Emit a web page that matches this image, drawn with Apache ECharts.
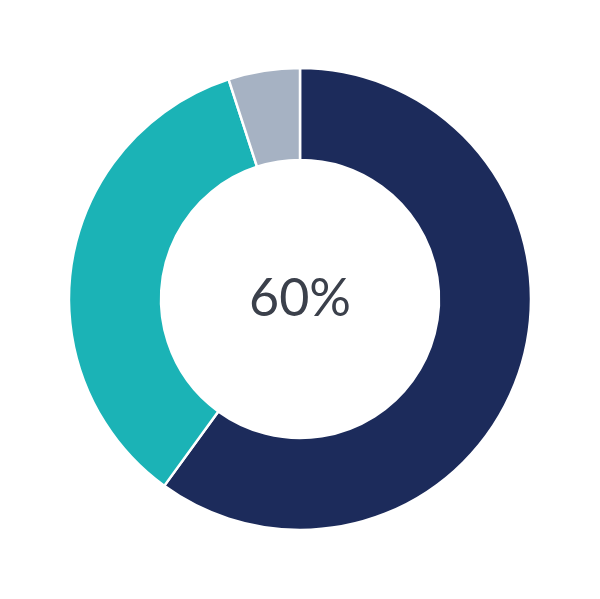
<!DOCTYPE html>
<html><head><meta charset="utf-8">
<script src="https://cdn.jsdelivr.net/npm/echarts@6/dist/echarts.min.js"></script>
<style>html,body{margin:0;padding:0;background:#fff}#c{width:600px;height:599px}</style>
</head><body><div id="c"></div>
<script>
const categories = ['A', 'B', 'C'];
const values = [60, 35, 5];
const colors = ['#1c2b5b', '#1bb3b6', '#a6b2c3'];
const centerLabel = '60%';
const chart = echarts.init(document.getElementById('c'));
chart.setOption({
  animation: false,
  graphic: [{
    type: 'text',
    style: { text: centerLabel, x: 300, y: 299, fill: '#3b404b', font: '52px Lato', textAlign: 'center', textVerticalAlign: 'middle' }
  }],
  series: [{
    type: 'pie',
    center: [300, 299],
    radius: [139, 231],
    startAngle: 90,
    clockwise: true,
    label: { show: false },
    labelLine: { show: false },
    itemStyle: { borderColor: '#fff', borderWidth: 2.5 },
    emphasis: { disabled: true },
    data: categories.map((c, i) => ({ name: c, value: values[i], itemStyle: { color: colors[i] } }))
  }]
});
</script></body></html>
